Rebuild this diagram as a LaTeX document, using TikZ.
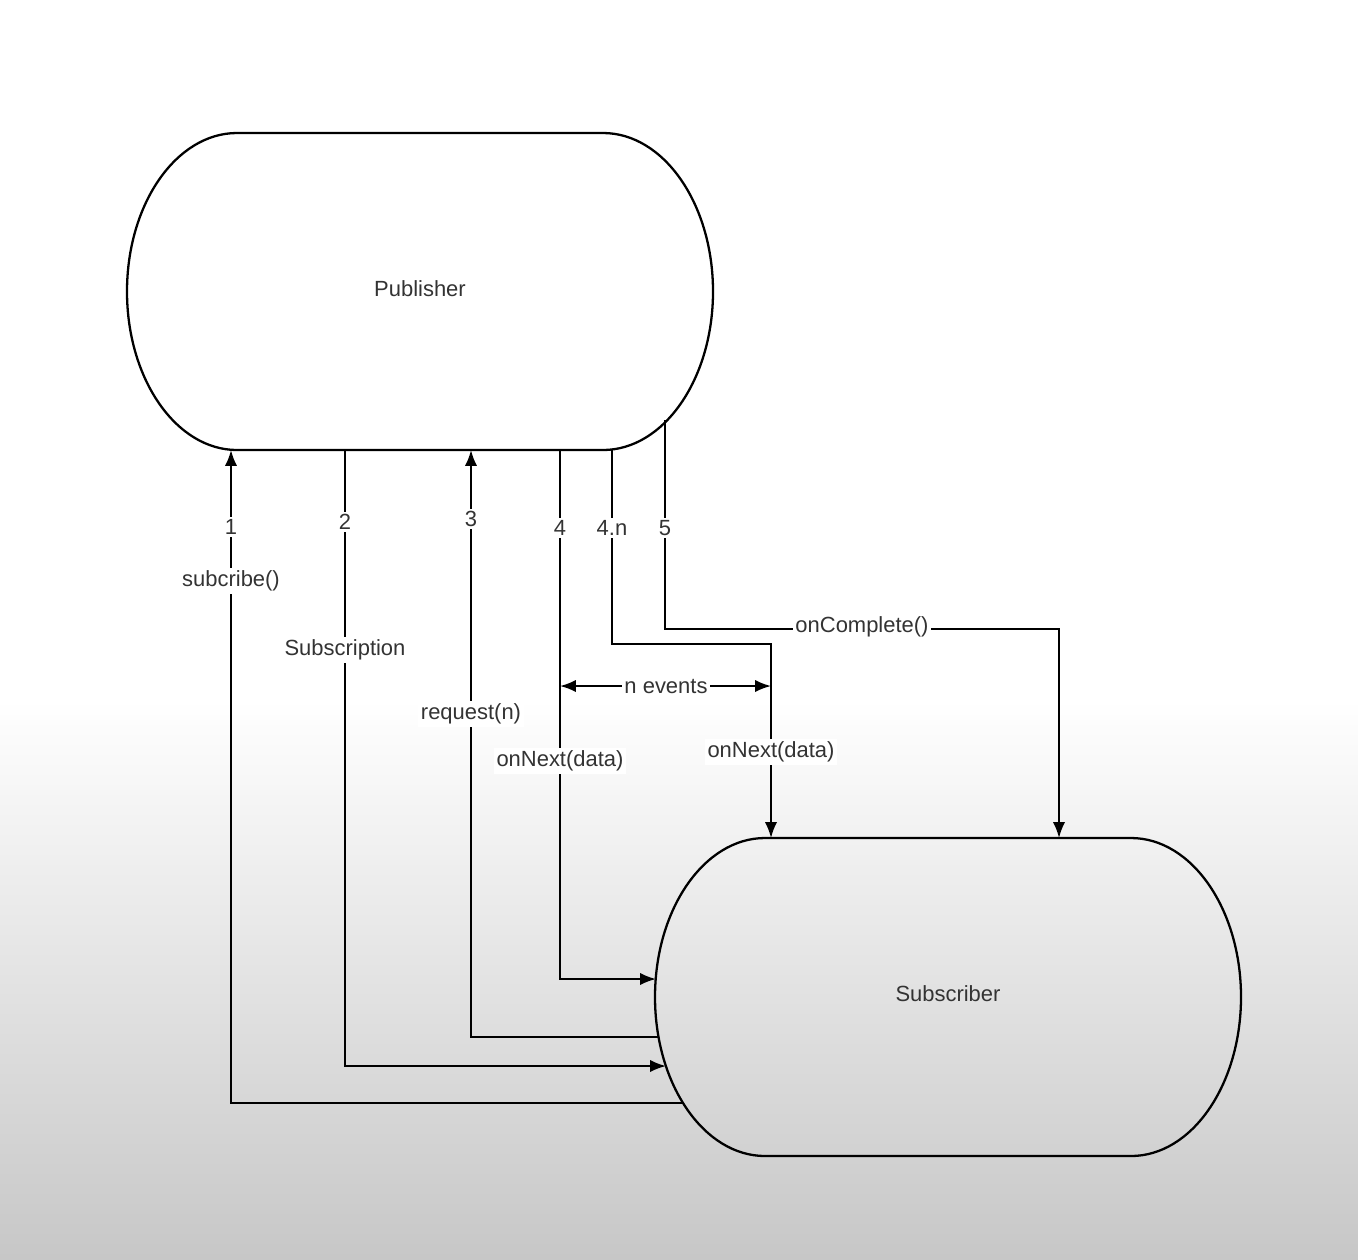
\documentclass[tikz,border=0pt]{standalone}
\usepackage{fontspec}
\setmainfont{Liberation Sans}
\usetikzlibrary{arrows.meta}
\begin{document}
\begin{tikzpicture}[x=0.02cm,y=-0.02cm,
  conn/.style={line width=1.2pt,-{Latex[length=9pt,width=7pt]}},
  lbl/.style={fill=white,inner sep=1.5pt,text=black!80,font=\fontsize{12.5}{15}\selectfont},
  shp/.style={line width=1.3pt}]
\useasboundingbox (0,0) rectangle (1358,1259);
\fill[white] (0,0) rectangle (1358,700);
\shade[top color=white,bottom color=black!22] (0,700) rectangle (1358,1259);
% Publisher
\draw[shp] (237,133) -- (603,133) arc[start angle=-90,end angle=90,x radius=110,y radius=158.5] -- (237,450) arc[start angle=90,end angle=270,x radius=110,y radius=158.5] -- cycle;
\node[font=\fontsize{12.5}{15}\selectfont,text=black!80] (pub) at (420,289) {Publisher};
% Subscriber
\draw[shp] (765,838) -- (1131,838) arc[start angle=-90,end angle=90,x radius=110,y radius=159] -- (765,1156) arc[start angle=90,end angle=270,x radius=110,y radius=159] -- cycle;
\node[font=\fontsize{12.5}{15}\selectfont,text=black!80] (sub) at (948,994) {Subscriber};
% coordinates
\coordinate (p1) at (231,450); \coordinate (s1) at (683,1103);
\coordinate (p2) at (345,450); \coordinate (s2) at (666,1066);
\coordinate (p3) at (471,450); \coordinate (s3) at (658,1037);
\coordinate (p4) at (560,450); \coordinate (s4) at (656,979);
\coordinate (p4n) at (612,450); \coordinate (s4n) at (771,838);
\coordinate (p5) at (665,420); \coordinate (s5) at (1059,838);
\draw[conn] (s1) -- (231,1103) -- (p1);
\draw[conn] (p2) -- (345,1066) -- (s2);
\draw[conn] (s3) -- (471,1037) -- (p3);
\draw[conn] (p4) -- (560,979) -- (s4);
\draw[conn] (p4n) -- (612,644) -- (771,644) -- (s4n);
\draw[conn] (p5) -- (665,629) -- (1059,629) -- (s5);
\coordinate (ea) at (560,686); \coordinate (eb) at (771,686);
\draw[line width=1.2pt,{Latex[length=9pt,width=7pt]}-{Latex[length=9pt,width=7pt]}] (ea) -- (eb);
% labels
\node[lbl] (l1) at (231,527) {1};
\node[lbl] (l1b) at (231,581) {subcribe()};
\node[lbl] (l2) at (345,522) {2};
\node[lbl] (l2b) at (345,650) {Subscription};
\node[lbl] (l3) at (471,519) {3};
\node[lbl] (l3b) at (471,714) {request(n)};
\node[lbl] (l4) at (560,528) {4};
\node[lbl] (l4b) at (560,761) {onNext(data)};
\node[lbl] (l4n) at (612,528) {4.n};
\node[lbl] (l4nb) at (771,752) {onNext(data)};
\node[lbl] (l5) at (665,528) {5};
\node[lbl] (l5b) at (862,627) {onComplete()};
\node[lbl] (ne) at (666,686) {n events};
\end{tikzpicture}
\end{document}
